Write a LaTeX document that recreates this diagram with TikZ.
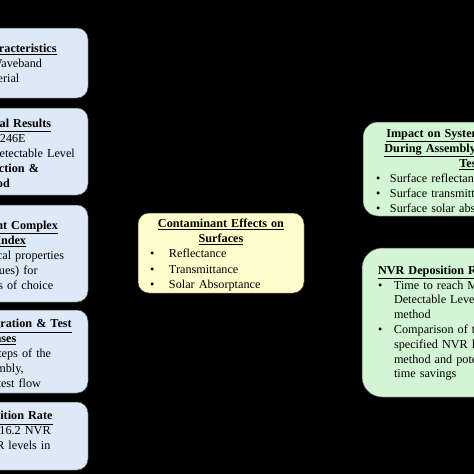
\documentclass[tikz,border=0pt]{standalone}
\usepackage{fontspec}
\setmainfont{Liberation Serif}
\usepackage{tikz}
\usetikzlibrary{positioning}
\definecolor{lightblue}{RGB}{221,233,246}
\definecolor{lightyellow}{RGB}{255,253,204}
\definecolor{lightgreen}{RGB}{211,245,211}
\newcommand{\heading}[2][12.5pt]{\rule{0pt}{#1}\underline{\textbf{#2}}}
\newcommand{\bitem}[2][19pt]{\par\hangindent=#1\hangafter=1\noindent\makebox[#1][l]{\textbullet}#2}

\begin{document}
\begin{tikzpicture}[x=1pt,y=-1pt,
    every node/.style={font=\fontsize{12.2}{15}\selectfont},
    card/.style={draw=black!70, line width=0.5pt, align=left, inner ysep=0pt},
    leftcard/.style={card, fill=lightblue, rounded corners=11pt, text width=141pt, inner xsep=9pt},
    midcard/.style={card, fill=lightyellow, rounded corners=11pt, text width=142pt, inner xsep=12pt},
    rightcard/.style={card, fill=lightgreen}]
  \useasboundingbox (0,0) rectangle (474,474);
  \clip (0,0) rectangle (474,474);
  \fill[black] (0,0) rectangle (474,474);

  % Left column
  \node[leftcard, minimum height=70pt] (sensor) at (8.5,63)
    {\heading{Sensor Characteristics}\\ Operating Waveband\\ Optical Material};
  \node[leftcard, minimum height=87pt] (results) at (8.5,151.5)
    {\heading{Experimental Results}\\ IEST-STD-1246E\\ Minimum Detectable Level\\
     \textbf{Faster Detection \&}\\ \textbf{Final Method}};
  \node[leftcard, minimum height=97pt] (index) at (8.5,253.5)
    {\heading{Contaminant Complex}\\ \underline{\textbf{Refractive Index}}\\
     Known optical properties\\ (n and k values) for\\ contaminants of choice};
  \node[leftcard, minimum height=83pt] (phases) at (8.5,351.5)
    {\heading{Flight Integration \& Test}\\ \underline{\textbf{Process Phases}}\\
     Sequential steps of the\\ system assembly,\\ and overall test flow};
  \node[leftcard, minimum height=68pt] (rate) at (8.5,436)
    {\heading{NVR Deposition Rate}\\ From Table 16.2 NVR\\ defined NVR levels in\\ \mbox{}};

  % Centre
  \node[midcard, minimum height=80pt, font=\fontsize{12.2}{15.3}\selectfont] (effects) at (221,253)
    {{\centering\heading{Contaminant Effects on}\\ \underline{\textbf{Surfaces}}\par}
     \bitem{Reflectance}\bitem{Transmittance}\bitem{Solar Absorptance}\par};

  % Right column
  \node[rightcard, rounded corners=15pt, text width=188pt, inner xsep=13pt, minimum height=94pt] (impact) at (470,169)
    {{\centering\heading[14.5pt]{Impact on System Performance}\\
      \underline{\textbf{During Assembly, Integration \&}}\\ \underline{\textbf{Test}}\par}
     \bitem[14pt]{Surface reflectance}\bitem[14pt]{Surface transmittance}\bitem[14pt]{Surface solar absorptance}\par};
  \node[rightcard, rounded corners=20pt, text width=183pt, inner xsep=16pt, minimum height=149pt,
        font=\fontsize{12.2}{14.8}\selectfont] (deposition) at (469.5,322.5)
    {\heading[10pt]{NVR Deposition Rate}
     \bitem[16pt]{Time to reach Minimum\newline Detectable Level for each\newline method}
     \bitem[16pt]{Comparison of time to\newline specified NVR level for each\newline method and potential\newline time savings}\par};
\end{tikzpicture}
\end{document}
